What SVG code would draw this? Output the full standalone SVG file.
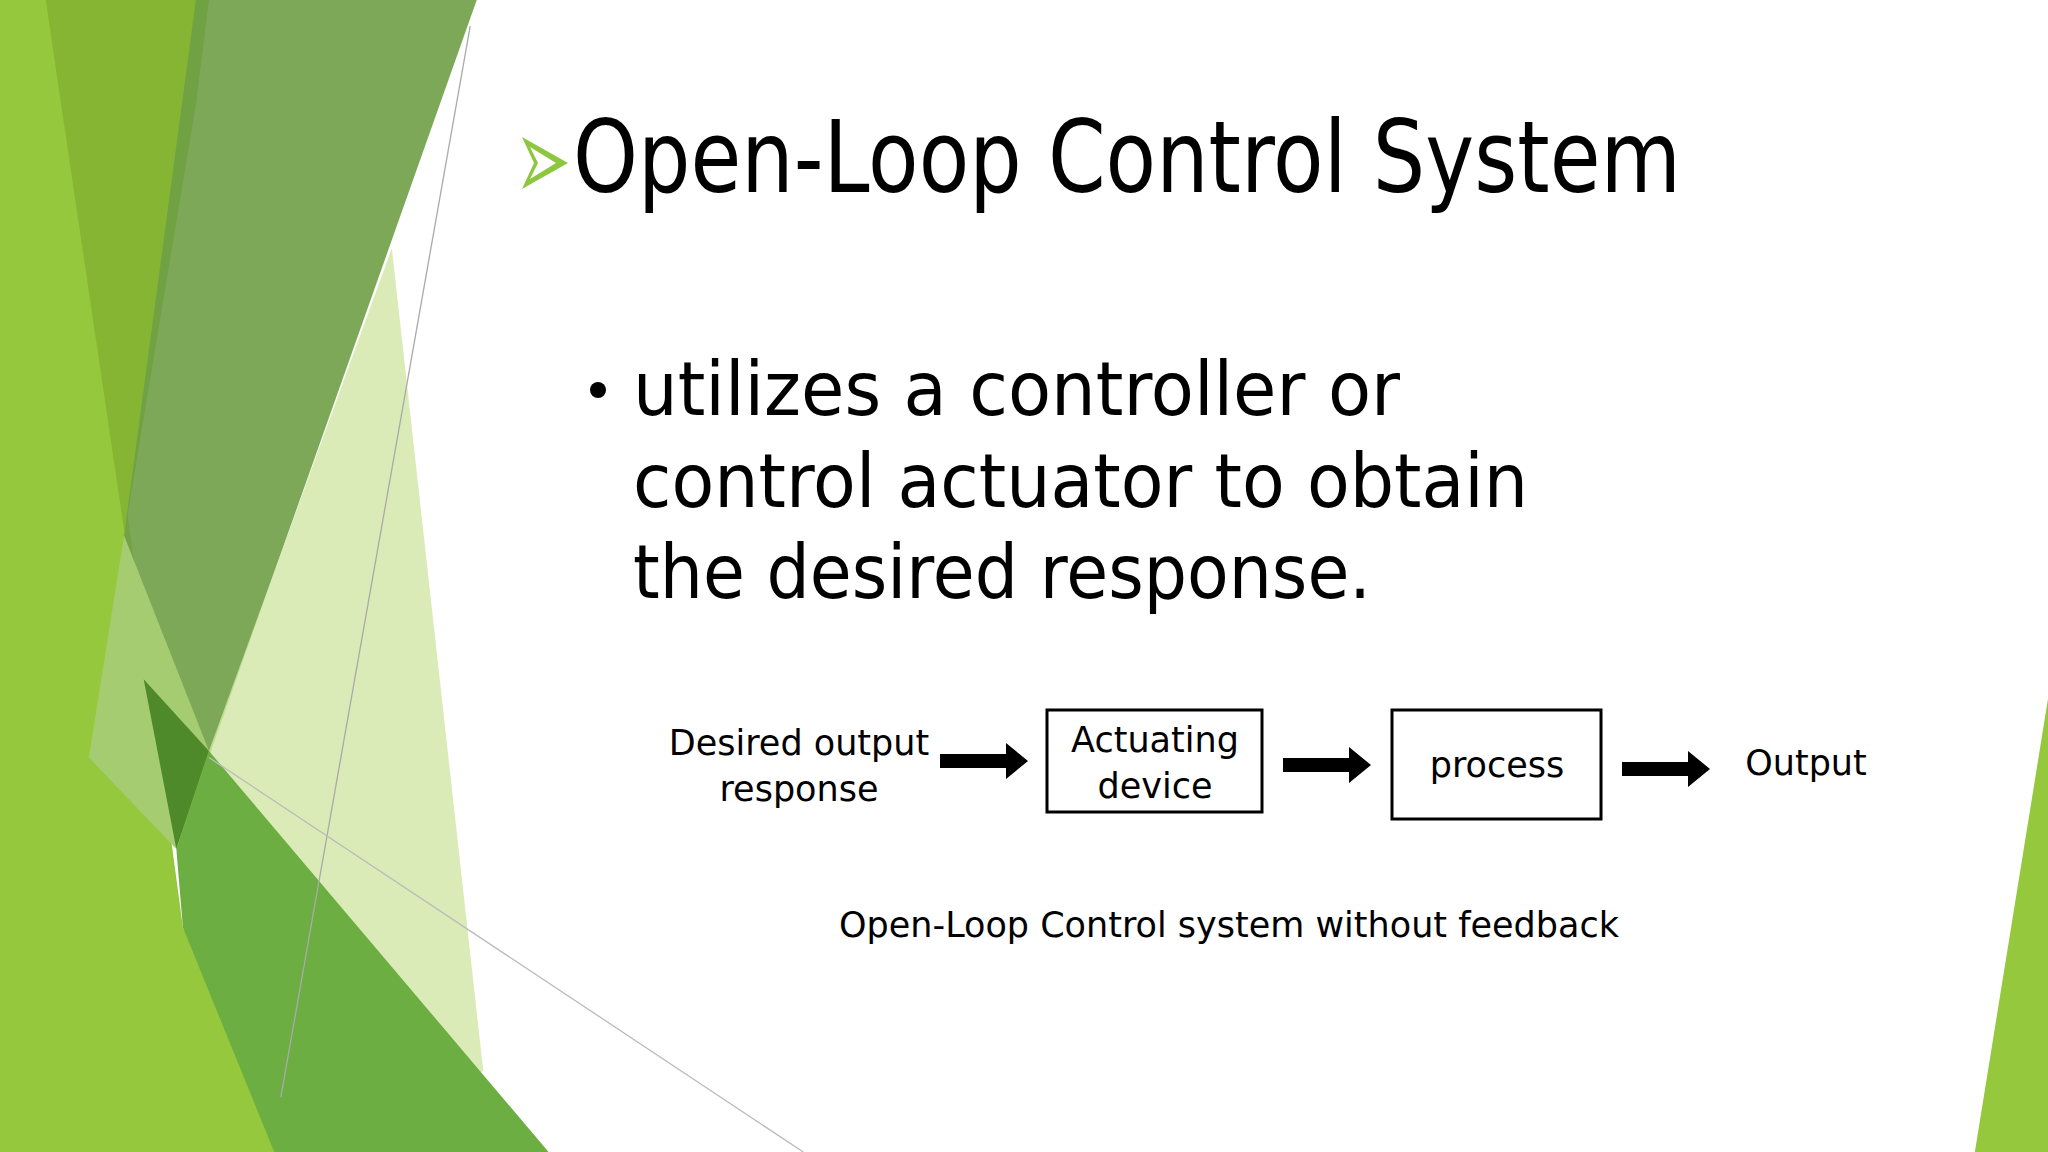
<svg xmlns="http://www.w3.org/2000/svg" width="2048" height="1152" viewBox="0 0 2048 1152">
<style>
.t{font-family:"DejaVu Sans","Liberation Sans",sans-serif;fill:#000}
.s{font-size:35px;text-anchor:middle}
.box{fill:#fff;stroke:#000;stroke-width:3}
</style>
<defs>
<path id="arr" d="M0,-7 H66 V-18 L88,0 L66,18 V7 H0 Z" fill="#000"/>
</defs>
<rect width="2048" height="1152" fill="#fff"/>
<g id="background" transform="scale(1.30612)">
<polygon points="0,0 45,0 140,710 235,882 0,882" fill="#95c83c"/>
<polygon points="35,0 160,0 150,80 95,410 140,710" fill="#86b534"/>
<polygon points="150,0 365,0 135,650 95,410" fill="#6e9e45" opacity="0.9"/>
<polygon points="95,410 160,575 135,650 68,580" fill="#a5cc70"/>
<polygon points="300,190 370,820 250,882 160,575" fill="#d2e6a6" opacity="0.8"/>
<polygon points="110,520 160,575 135,650" fill="#4f8a2a"/>
<polygon points="160,575 420,882 210,882 140,710 135,650" fill="#6cae42"/>
<polygon points="1568,535 1568,882 1512,882" fill="#95c83c"/>
<line x1="360" y1="20" x2="215" y2="840" stroke="#aaa" stroke-width="1"/>
<line x1="160" y1="580" x2="615" y2="882" stroke="#bbb" stroke-width="1"/>
</g>
<g id="title">
<polygon points="522,137 568,163 522,189 534,163" fill="#8dc63f"/>
<polygon points="530,147 556,163 530,179 538,163" fill="#fff"/>
<text class="t" x="573" y="192" font-size="100" textLength="1108" lengthAdjust="spacingAndGlyphs">Open-Loop Control System</text>
</g>
<g id="bullet">
<circle cx="598" cy="390" r="8" fill="#000"/>
<text class="t" x="633" y="415" font-size="74" textLength="767" lengthAdjust="spacingAndGlyphs">utilizes a controller or</text>
<text class="t" x="633" y="507" font-size="74" textLength="895" lengthAdjust="spacingAndGlyphs">control actuator to obtain</text>
<text class="t" x="633" y="598" font-size="74" textLength="738" lengthAdjust="spacingAndGlyphs">the desired response.</text>
</g>
<g id="input"><text class="t s" x="799" y="755">Desired output</text><text class="t s" x="799" y="801">response</text></g>
<g id="actuator"><rect class="box" x="1047" y="710" width="215" height="102"/><text class="t s" x="1155" y="752">Actuating</text><text class="t s" x="1155" y="798">device</text></g>
<g id="process"><rect class="box" x="1392" y="710" width="209" height="109"/><text class="t s" x="1497" y="777">process</text></g>
<g id="output"><text class="t s" x="1806" y="775">Output</text></g>
<g id="connectors">
<use href="#arr" x="940" y="761"/>
<use href="#arr" x="1283" y="765"/>
<use href="#arr" x="1622" y="769"/>
</g>
<g id="caption"><text class="t s" x="1229" y="937">Open-Loop Control system without feedback</text></g>
</svg>
